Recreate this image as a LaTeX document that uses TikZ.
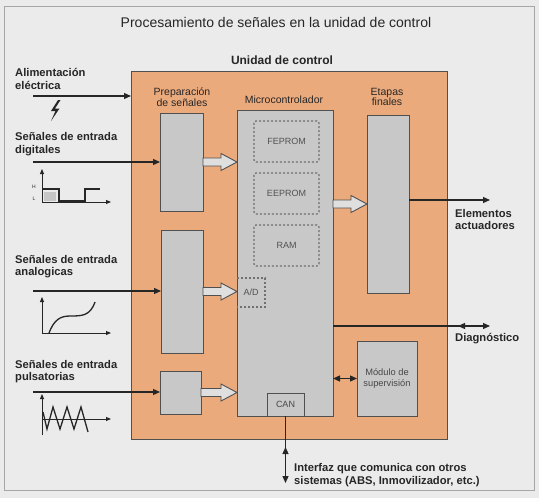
\documentclass[tikz,border=0pt]{standalone}
\usepackage{fontspec}
\setmainfont{Liberation Sans}
\usetikzlibrary{arrows.meta,calc}
\definecolor{bgc}{HTML}{EBEBEB}
\definecolor{orng}{HTML}{EBAA7C}
\definecolor{boxg}{HTML}{C8C8C8}
\definecolor{edge}{HTML}{505050}
\definecolor{ink}{HTML}{262626}
\definecolor{dashc}{HTML}{707070}
\newcommand\blockarr[2]{%
  \path let \p1=(#1), \p2=(#2) in [draw=edge, fill=gray!25, line width=0.9pt, line join=miter]
    (\x1,\y1+4pt) -- (\x2-16pt,\y1+4pt) -- (\x2-16pt,\y1+8.5pt) -- (\x2,\y1)
    -- (\x2-16pt,\y1-8.5pt) -- (\x2-16pt,\y1-4pt) -- (\x1,\y1-4pt) -- cycle;}
\begin{document}
\begin{tikzpicture}[x=1pt,y=-1pt,
  gbox/.style={draw=edge, fill=boxg, line width=1pt, anchor=north west, inner sep=0pt, outer sep=0pt, text=ink!85},
  dbox/.style={draw=dashc, line width=1.2pt, dash pattern=on 2pt off 2pt, rounded corners=2pt, anchor=north west, inner sep=0pt, outer sep=0pt, text=ink!80, font=\fontsize{9}{9}\selectfont, minimum width=65pt, minimum height=41pt},
  lbl/.style={anchor=west, align=left, text=ink, font=\bfseries\fontsize{11.2}{12.5}\selectfont, inner sep=0pt},
  hdr/.style={align=center, text=ink, font=\fontsize{10.5}{10.5}\selectfont, inner sep=0pt},
  conn/.style={draw=ink, line width=1.2pt, -{Triangle[length=7pt,width=6pt]}},
  conn2/.style={draw=ink, line width=1.2pt, {Triangle[length=7pt,width=6pt]}-{Triangle[length=7pt,width=6pt]}},
  axis/.style={draw=ink, line width=1pt, -{Triangle[length=5pt,width=4pt]}},
  wave/.style={draw=ink, line width=1.3pt}]
\useasboundingbox (0,0) rectangle (539,498);
\fill[bgc] (0,0) rectangle (539,498);
\draw[gray!70, line width=1pt] (4,6) rectangle (534,490);

% titles
\node[text=ink, font=\fontsize{14}{16}\selectfont] (title) at (276,22) {Procesamiento de señales en la unidad de control};
\node[text=ink, font=\bfseries\fontsize{12}{14}\selectfont] (uctitle) at (282,60) {Unidad de control};

% control unit
\node[draw=edge, fill=orng, line width=1pt, anchor=north west, inner sep=0pt, outer sep=0pt, minimum width=316pt, minimum height=368pt] (uc) at (131,71) {};

\node[hdr] (hprep) at (182,97) {Preparación\\de señales};
\node[hdr] (hmc) at (284,100) {Microcontrolador};
\node[hdr] (hef) at (387,97) {Etapas\\finales};

% boxes
\node[gbox, minimum width=43pt, minimum height=98pt] (p1) at (160,113) {};
\node[gbox, minimum width=42pt, minimum height=123pt] (p2) at (161,230) {};
\node[gbox, minimum width=41pt, minimum height=43pt] (p3) at (160,371) {};
\node[gbox, minimum width=96pt, minimum height=306pt] (mc) at (237,110) {};
\node[gbox, minimum width=42pt, minimum height=178pt] (ef) at (367,115) {};
\node[gbox, minimum width=60pt, minimum height=75pt, align=center, font=\fontsize{9.3}{11.5}\selectfont] (mod) at (357,341) {Módulo de\\supervisión};
\node[gbox, minimum width=37pt, minimum height=23pt, font=\fontsize{9}{9}\selectfont] (can) at (267,393) {CAN};

\node[dbox] (fep) at (254,121) {FEPROM};
\node[dbox] (eep) at (254,173) {EEPROM};
\node[dbox] (ram) at (254,225) {RAM};
\node[anchor=north west, inner sep=0pt, outer sep=0pt, minimum width=28pt, minimum height=29pt, text=ink!80, font=\fontsize{9}{9}\selectfont] (ad) at (237,278) {A/D};
\draw[draw=dashc, line width=1.2pt, dash pattern=on 2pt off 2pt] (ad.north west) -- (ad.north east) -- (ad.south east) -- (ad.south west);

% block arrows
\blockarr{p1.east}{p1.east -| mc.west}
\blockarr{p2.east}{p2.east -| mc.west}
\blockarr{p3.east}{p3.east -| mc.west}
\blockarr{mc.east |- ef.west}{ef.west}

% left labels
\node[lbl] (lali) at (15,79) {Alimentación\\eléctrica};
\node[lbl] (ldig) at (15,144) {Señales de entrada\\digitales};
\node[lbl] (lana) at (15,266.5) {Señales de entrada\\analogicas};
\node[lbl] (lpul) at (15,371.5) {Señales de entrada\\pulsatorias};

\coordinate (ali) at (33,96);
\coordinate (din) at (33,162);
\coordinate (ain) at (33,291);
\coordinate (pin) at (33,392);
\draw[conn] (ali) -- (ali -| uc.west);
\draw[conn] (din) -- (din -| p1.west);
\draw[conn] (ain) -- (ain -| p2.west);
\draw[conn] (pin) -- (pin -| p3.west);

% lightning
\fill[ink] (58,100) -- (51,111) -- (55.5,111) -- (51,121) -- (59.5,108.5) -- (55,108.5) -- (60.5,100) -- cycle;

% digital icon
\coordinate (dO) at (42,202);
\fill[gray!45] (44,192) rectangle (56,201);
\draw[axis] (dO) -- (42,169);
\draw[axis] (dO) -- (111,202);
\draw[wave] (42,189) -- (59,189) -- (59,201) -- (85,201) -- (85,189) -- (100,189);
\node[text=ink, font=\fontsize{5}{5}\selectfont, inner sep=0pt] (hH) at (34,187) {H};
\node[text=ink, font=\fontsize{5}{5}\selectfont, inner sep=0pt] (hL) at (34,199) {L};

% analog icon
\coordinate (aO) at (42,333);
\draw[axis] (aO) -- (42,297);
\draw[axis] (aO) -- (111,333);
\draw[wave] (49,333) .. controls (54,320) and (60,316) .. (70,316) .. controls (82,316) and (90,316) .. (95,302);

% pulse icon
\coordinate (pO) at (42,435);
\draw[axis] (pO) -- (42,394);
\draw[axis] (42,419) -- (111,419);
\draw[wave, line join=miter] (43,412) -- (47,429) -- (53,407) -- (60,429) -- (67,407) -- (74,429) -- (81,407) -- (88,432);

% outputs
\coordinate (elem) at (490,200);
\draw[conn] (elem -| ef.east) -- (elem);
\node[lbl] (lelem) at (455,219.5) {Elementos\\actuadores};

\coordinate (diag) at (490,326);
\coordinate (diagb) at (468,326);
\coordinate (diagc) at (458,326);
\draw[conn] (diag -| mc.east) -- (diag);
\draw[conn] (diagb) -- (diagc);
\node[lbl] (ldiag) at (455,339) {Diagnóstico};

\draw[conn2] (mod.west -| mc.east) -- (mod.west);

\coordinate (canend) at (285.5,483);
\coordinate (canb) at (285.5,458);
\coordinate (canc) at (285.5,447);
\draw[conn] (can.south) -- (canend);
\draw[conn] (canb) -- (canc);
\node[lbl] (lint) at (294,475) {Interfaz que comunica con otros\\sistemas (ABS, Inmovilizador, etc.)};
\end{tikzpicture}
\end{document}
